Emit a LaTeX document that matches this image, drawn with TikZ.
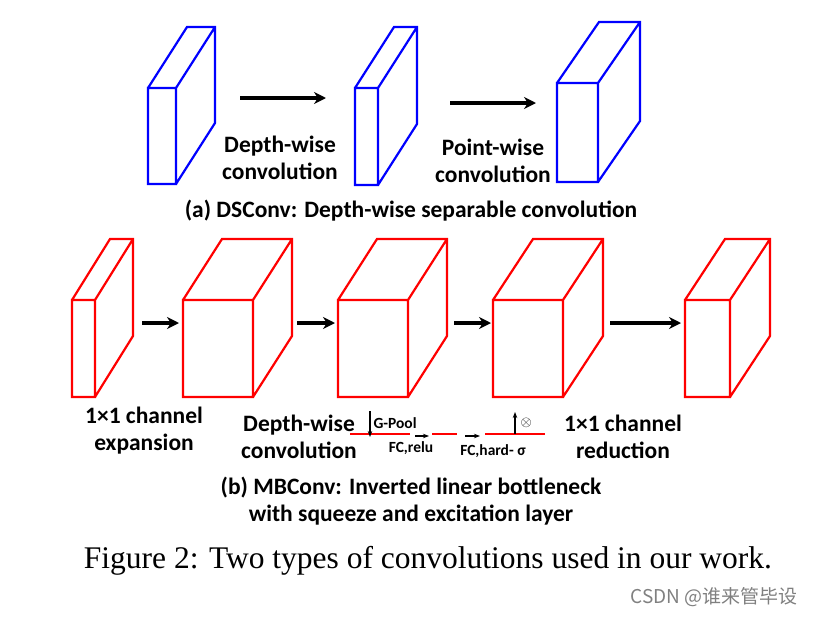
\documentclass[tikz,border=0pt]{standalone}
\usepackage{fontspec}
\setmainfont{Liberation Serif}
\newfontfamily\lbl{Carlito}
\newfontfamily\cjk{Noto Sans CJK SC}
\usetikzlibrary{arrows.meta,positioning}
% cube: front left x, front top y, front width, height, depth dx, colour, name
\newcommand{\cube}[7]{%
  \draw[#6,line width=2.2pt,line join=miter]
    (#1,#2) rectangle (#1+#3,#2+#4)
    (#1,#2) -- ++(#5,-61) -- ++(#3,0) -- ++(0,#4) -- (#1+#3,#2+#4)
    (#1+#3,#2) -- ++(#5,-61);
  \coordinate (#7) at (#1+#3/2,#2+#4/2);}
\begin{document}
\begin{tikzpicture}[x=1pt,y=-1pt,
    flow/.style={-{Stealth[length=12pt,width=12pt]},line width=3.5pt},
    lab/.style={font=\lbl\fontsize{23.5}{27}\selectfont\bfseries,align=center},
    small/.style={font=\lbl\fontsize{15.5}{18}\selectfont\bfseries},
    se/.style={red,line width=1.5pt},
    tip/.style={-{Stealth[length=6pt]},line width=1.4pt}]
  \useasboundingbox (0,0) rectangle (814,616);
  % (a) depth-wise separable
  \cube{148}{88}{28}{96}{39}{blue}{dA}
  \cube{355}{88}{23}{97}{39}{blue}{dB}
  \cube{557}{83}{41}{99}{42}{blue}{dC}
  \coordinate (a1s) at (240,98); \coordinate (a1e) at (326,98);
  \coordinate (a2s) at (450,103); \coordinate (a2e) at (536,103);
  \draw[flow] (a1s) -- (a1e);
  \draw[flow] (a2s) -- (a2e);
  \node[lab] (dw) at (280,158) {Depth-wise\\convolution};
  \node[lab] (pw) at (493,161) {Point-wise\\convolution};
  \node[lab] (capa) at (411,211) {(a) DSConv: Depth-wise separable convolution};
  % (b) inverted bottleneck
  \cube{72}{300}{23}{97}{38}{red}{mA}
  \cube{183}{300}{70}{97}{39}{red}{mB}
  \cube{338}{300}{70}{97}{39}{red}{mC}
  \cube{493}{300}{70}{97}{40}{red}{mD}
  \cube{685}{300}{45}{97}{40}{red}{mE}
  \foreach \s/\e/\y in {142/179/323, 297/335/323, 454/491/323, 610/681/323}
    \draw[flow] (\s,\y) -- (\e,\y);
  \node[lab] (exp) at (144,431) {1×1 channel\\expansion};
  \node[lab] (dw2) at (299,437) {Depth-wise\\convolution};
  \node[lab] (red) at (623,437) {1×1 channel\\reduction};
  % squeeze and excitation
  \coordinate (p1) at (350,434); \coordinate (p2) at (410,434);
  \coordinate (q1) at (432,434); \coordinate (q2) at (457,434);
  \coordinate (r1) at (485,434); \coordinate (r2) at (545,434);
  \draw[se] (p1) -- (p2);
  \draw[se] (q1) -- (q2);
  \draw[se] (r1) -- (r2);
  \draw[tip] (415,436) -- (429,436);
  \draw[tip] (465,436) -- (480,436);
  \draw[tip] (370,411) -- (370,437);
  \draw[tip] (515,434) -- (515,412);
  \node[small,anchor=west] (gp) at (370,423) {G-Pool};
  \node[small] (fc1) at (411,448) {FC,relu};
  \node[small] (fc2) at (493,451) {FC,hard- σ};
  \node[anchor=west,font=\fontsize{15}{18}\selectfont] (mul) at (517,423) {$\otimes$};
  \node[lab] (capb) at (411,501) {(b) MBConv: Inverted linear bottleneck\\with squeeze and excitation layer};
  \node[font=\fontsize{31.5}{36}\selectfont] (fig) at (428,561) {Figure 2: Two types of convolutions used in our work.};
  \node[font=\cjk\fontsize{19}{22}\selectfont,text=gray] (wm) at (714,597) {CSDN @谁来管毕设};
\end{tikzpicture}
\end{document}
